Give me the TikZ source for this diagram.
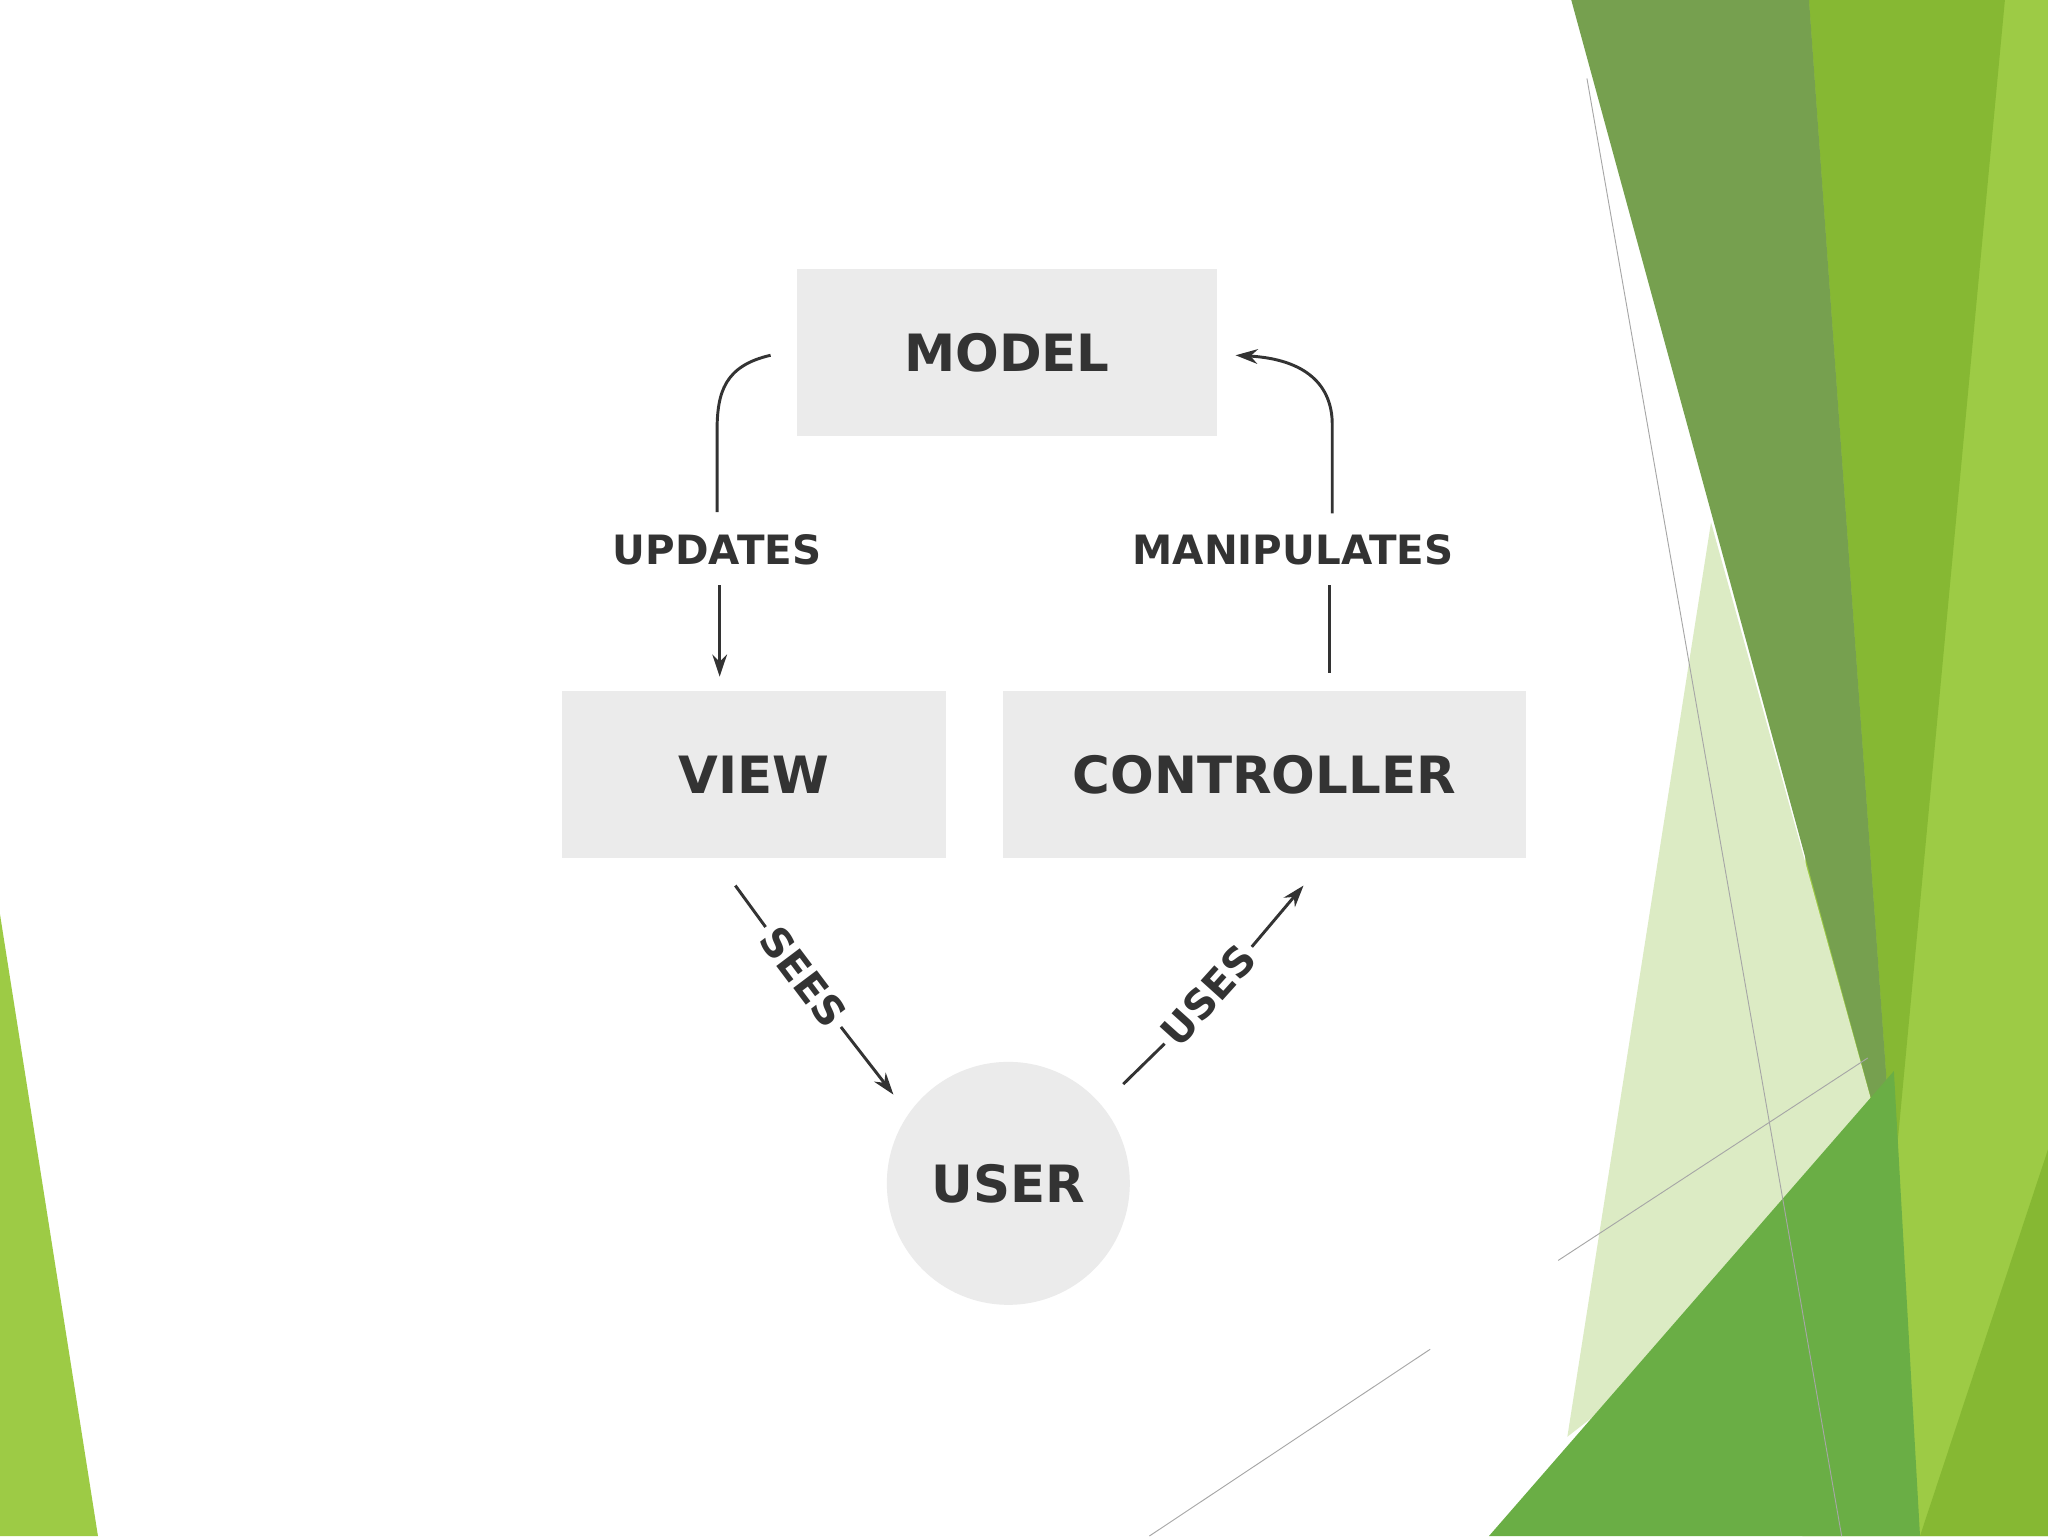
\documentclass[tikz,border=0pt]{standalone}
\usepackage{fontspec}
\setmainfont{DejaVu Sans}
\usetikzlibrary{arrows.meta}
\definecolor{boxg}{HTML}{EBEBEB}
\definecolor{txt}{HTML}{333333}
\definecolor{gA}{HTML}{76A04F}
\definecolor{gB}{HTML}{86B833}
\definecolor{gC}{HTML}{9DCB45}
\definecolor{gD}{HTML}{DCEBC4}
\definecolor{gE}{HTML}{6AAE45}
\tikzset{x=0.25mm,y=-0.25mm,
 box/.style={fill=boxg,inner sep=0pt,font=\fontsize{28}{30}\selectfont\bfseries,text=txt},
 lbl/.style={font=\fontsize{22}{24}\selectfont\bfseries,text=txt,inner sep=3pt},
 conn/.style={line width=1.6pt,draw=txt},
 arr/.style={conn,-{Stealth[length=12pt,width=8pt]}}}
\begin{document}
\begin{tikzpicture}
\useasboundingbox (0,0) rectangle (1568,1176);
\fill[white] (0,0) rectangle (1568,1176);
% green decoration
\fill[gC] (1385,0)--(1568,0)--(1568,1176)--(1380,1176)--cycle;
\fill[gB] (1385,0)--(1535,0)--(1450,905)--cycle;
\fill[gD] (1310,400)--(1450,905)--(1200,1100)--cycle;
\fill[gA] (1203,0)--(1385,0)--(1450,905)--cycle;
\fill[gE] (1140,1176)--(1450,820)--(1470,1176)--cycle;
\fill[gB] (1470,1176)--(1568,880)--(1568,1176)--cycle;
\fill[gC] (0,700)--(0,1176)--(75,1176)--cycle;
\draw[gray!70,line width=0.5pt] (1215,60)--(1410,1176);
\draw[gray!70,line width=0.5pt] (1193,965)--(1430,810);
\draw[gray!70,line width=0.5pt] (880,1176)--(1095,1033);
% nodes
\node[box,minimum width=321*0.25mm,minimum height=128*0.25mm] (model) at (771,270) {MODEL};
\node[box,minimum width=294*0.25mm,minimum height=128*0.25mm] (view) at (577,593) {VIEW};
\node[box,minimum width=400*0.25mm,minimum height=128*0.25mm] (ctrl) at (968,593) {CONTROLLER};
\node[circle,fill=boxg,minimum size=186*0.25mm,inner sep=0pt,font=\fontsize{28}{30}\selectfont\bfseries,text=txt] (user) at (772,906) {USER};
\node[lbl] (upd) at (549,421) {UPDATES};
\node[lbl] (man) at (990,421) {MANIPULATES};
\node[lbl,rotate=-53] (sees) at (615,748) {SEES};
\node[lbl,rotate=48] (uses) at (925,762) {USES};
\coordinate (m1) at (590,272);
\coordinate (m2) at (946,272);
% connectors
\draw[conn] (m1) .. controls (555,280) and (549,300) .. (549,330) -- (549,392);
\draw[arr] (551,448) -- (551,518);
\draw[conn] (1018,515) -- (1018,448);
\draw[arr] (1020,393) -- (1020,325) .. controls (1020,295) and (1000,275) .. (m2);
\draw[conn] (563,678) -- (sees.west);
\draw[arr] (sees.east) -- (684,838);
\draw[conn] (860,830) -- (uses.west);
\draw[arr] (uses.east) -- (998,678);
\end{tikzpicture}
\end{document}
